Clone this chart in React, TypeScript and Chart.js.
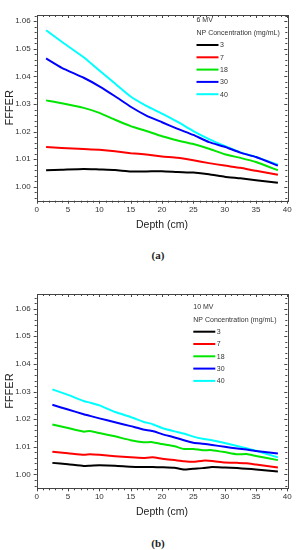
import React, { useEffect, useRef } from "react";
import { Chart, registerables } from "chart.js";
Chart.register(...registerables);

// ---------- data ----------
const concLabels = ["3", "7", "18", "30", "40"];
const seriesColors = ["#000000", "#ff0000", "#00e600", "#0000ff", "#00ffff"];
const xTickValues = [0, 5, 10, 15, 20, 25, 30, 35, 40];
const yTickValues = [1.0, 1.01, 1.02, 1.03, 1.04, 1.05, 1.06];

// (a) 6 MV
const depthA = [1.5, 4, 7.5, 10, 12.5, 15, 17.5, 20, 22.5, 25, 27.5, 30, 32.5, 35, 38.5];
const a3 = [1.006, 1.0062, 1.0065, 1.0063, 1.0061, 1.0056, 1.0056, 1.0057, 1.0054, 1.0052, 1.0046, 1.0037, 1.0031, 1.0024, 1.0015];
const a7 = [1.0144, 1.0141, 1.0137, 1.0134, 1.0129, 1.0122, 1.0117, 1.011, 1.0105, 1.0096, 1.0086, 1.0077, 1.0069, 1.0058, 1.0044];
const a18 = [1.0313, 1.0303, 1.0286, 1.0268, 1.0243, 1.022, 1.0202, 1.0183, 1.0168, 1.0155, 1.0138, 1.0118, 1.0105, 1.009, 1.006];
const a30 = [1.0465, 1.0431, 1.0395, 1.0364, 1.0328, 1.029, 1.0258, 1.0234, 1.021, 1.0188, 1.0162, 1.0145, 1.0124, 1.0108, 1.0077];
const a40 = [1.0567, 1.0525, 1.0469, 1.0421, 1.0374, 1.0327, 1.0293, 1.0265, 1.0235, 1.0202, 1.0173, 1.0148, 1.0125, 1.0108, 1.008];

// (b) 10 MV
const depthB = [2.5, 5, 7.5, 8.5, 10, 12.5, 15, 17, 18.5, 20, 22, 23.5, 25, 26.5, 28, 30, 32, 33.5, 35, 38.5];
const b3 = [1.0042, 1.0037, 1.0031, 1.0032, 1.0033, 1.0032, 1.0028, 1.0027, 1.0027, 1.0026, 1.0024, 1.0018, 1.0021, 1.0023, 1.0027, 1.0025, 1.0023, 1.0021, 1.0018, 1.0011];
const b7 = [1.0082, 1.0077, 1.0071, 1.0073, 1.0071, 1.0066, 1.0062, 1.006, 1.0062, 1.0057, 1.0052, 1.0048, 1.0046, 1.005, 1.0049, 1.0043, 1.0042, 1.0041, 1.0036, 1.0025];
const b18 = [1.0181, 1.0168, 1.0155, 1.0157, 1.015, 1.0138, 1.0124, 1.0117, 1.0117, 1.011, 1.0102, 1.0092, 1.0092, 1.0088, 1.0088, 1.0081, 1.0073, 1.0074, 1.0067, 1.0052];
const b30 = [1.0252, 1.0235, 1.0218, 1.0212, 1.0203, 1.0189, 1.0175, 1.0163, 1.0157, 1.0146, 1.0134, 1.0124, 1.0115, 1.0111, 1.0107, 1.01, 1.0094, 1.009, 1.0085, 1.0076];
const b40 = [1.0308, 1.0288, 1.0266, 1.026, 1.025, 1.0226, 1.0208, 1.0191, 1.0182, 1.0168, 1.0156, 1.0148, 1.0137, 1.0129, 1.0124, 1.0114, 1.0103, 1.0095, 1.0086, 1.0062];

const FONT = "'Liberation Sans', Arial, sans-serif";
const AXIS_COLOR = "#444";
const TEXT_COLOR = "#333";

Chart.defaults.font.family = FONT;

const frameTicksPlugin = {
  id: "frameTicks",
  afterDraw(chart: any) {
    const { ctx, chartArea } = chart;
    const { left, right, top, bottom } = chartArea;
    const xs = chart.scales.x;
    const ys = chart.scales.y;
    ctx.save();
    ctx.strokeStyle = AXIS_COLOR;
    ctx.lineWidth = 1;
    ctx.strokeRect(Math.round(left) + 0.5, Math.round(top) + 0.5, Math.round(right - left), Math.round(bottom - top));
    ctx.beginPath();
    for (let v = 0; v <= 40; v++) {
      const px = Math.round(xs.getPixelForValue(v)) + 0.5;
      const major = v % 5 === 0;
      const len = major ? 3 : 2;
      ctx.moveTo(px, bottom);
      ctx.lineTo(px, bottom + len);
      ctx.moveTo(px, top);
      ctx.lineTo(px, top + len);
    }
    const ymin = ys.min;
    const ymax = ys.max;
    for (let i = 0; ; i++) {
      const v = 0.996 + i * 0.002;
      if (v > ymax + 1e-9) break;
      if (v < ymin) continue;
      const major = Math.round(v * 1000) % 10 === 0;
      const py = Math.round(ys.getPixelForValue(v)) + 0.5;
      const len = major ? 3 : 2;
      ctx.moveTo(left - len, py);
      ctx.lineTo(left, py);
      ctx.moveTo(right, py);
      ctx.lineTo(right - len, py);
    }
    ctx.stroke();

    const lg = chart.options.plugins.customLegend;
    if (lg) {
      ctx.fillStyle = TEXT_COLOR;
      ctx.font = `7px ${FONT}`;
      ctx.textBaseline = "middle";
      ctx.textAlign = "left";
      ctx.fillText(lg.title, lg.x, lg.y);
      ctx.fillText("NP Concentration (mg/mL)", lg.x, lg.y + 13.3);
      chart.data.datasets.forEach((ds: any, i: number) => {
        const yy = lg.y + 25 + i * 12.3;
        ctx.strokeStyle = ds.borderColor;
        ctx.lineWidth = 2;
        ctx.beginPath();
        ctx.moveTo(lg.x, yy);
        ctx.lineTo(lg.x + lg.lineLen, yy);
        ctx.stroke();
        ctx.fillStyle = TEXT_COLOR;
        ctx.fillText(ds.label, lg.x + lg.lineLen + 1.5, yy + 0.5);
      });
    }
    ctx.restore();
  },
};

type Cfg = {
  depth: number[];
  series: number[][];
  yMax: number;
  height: number;
  padTop: number;
  xAxisHeight: number;
  titlePad: number;
  legend: { x: number; y: number; title: string; lineLen: number };
};

function FfferChart({ cfg }: { cfg: Cfg }) {
  const ref = useRef<HTMLCanvasElement | null>(null);
  useEffect(() => {
    if (!ref.current) return;
    const chart = new Chart(ref.current, {
      type: "line",
      data: {
        datasets: cfg.series.map((s, i) => ({
          label: concLabels[i],
          data: s.map((v, j) => ({ x: cfg.depth[j], y: v })),
          borderColor: seriesColors[i],
          backgroundColor: seriesColors[i],
          borderWidth: 2,
          pointRadius: 0,
          tension: 0.15,
          fill: false,
        })),
      },
      options: {
        animation: false,
        responsive: false,
        maintainAspectRatio: false,
        layout: { padding: { top: cfg.padTop, right: 8.7, left: 0, bottom: 0 } },
        plugins: {
          legend: { display: false },
          tooltip: { enabled: false },
          customLegend: cfg.legend,
        } as any,
        scales: {
          x: {
            type: "linear",
            min: 0,
            max: 40,
            afterFit: (s: any) => {
              s.height = cfg.xAxisHeight;
            },
            afterBuildTicks: (s: any) => {
              s.ticks = xTickValues.map((v) => ({ value: v }));
            },
            ticks: { color: TEXT_COLOR, font: { size: 8 }, padding: 4, maxRotation: 0, autoSkip: false },
            grid: { display: false, drawTicks: false },
            border: { display: false },
            title: {
              display: true,
              text: "Depth (cm)",
              color: "#222",
              font: { size: 10.5 },
              padding: { top: 0, bottom: cfg.titlePad },
            },
          },
          y: {
            type: "linear",
            min: 0.995,
            max: cfg.yMax,
            afterFit: (s: any) => {
              s.width = 36.7;
            },
            afterBuildTicks: (s: any) => {
              s.ticks = yTickValues.map((v) => ({ value: v }));
            },
            ticks: {
              color: TEXT_COLOR,
              font: { size: 8 },
              padding: 6,
              callback: (v: any) => Number(v).toFixed(2),
            },
            grid: { display: false, drawTicks: false },
            border: { display: false },
            title: {
              display: true,
              text: "FFFER",
              color: "#222",
              font: { size: 11 },
              padding: { top: 3, bottom: 0 },
            },
          },
        },
      },
      plugins: [frameTicksPlugin],
    } as any);
    return () => chart.destroy();
  }, [cfg]);
  return <canvas ref={ref} width={296} height={cfg.height} style={{ display: "block", width: 296, height: cfg.height }} />;
}

const cfgA: Cfg = {
  depth: depthA,
  series: [a3, a7, a18, a30, a40],
  yMax: 1.0622,
  height: 240,
  padTop: 15,
  xAxisHeight: 39.3,
  titlePad: 9,
  legend: { x: 196.5, y: 20, title: "6 MV", lineLen: 22 },
};

const cfgB: Cfg = {
  depth: depthB,
  series: [b3, b7, b18, b30, b40],
  yMax: 1.0653,
  height: 255,
  padTop: 24,
  xAxisHeight: 36.7,
  titlePad: 6.3,
  legend: { x: 193.3, y: 36.7, title: "10 MV", lineLen: 22 },
};

export default function App() {
  const captionStyle: React.CSSProperties = {
    position: "absolute",
    left: 0,
    width: 316,
    textAlign: "center",
    fontFamily: "'Liberation Serif', 'Times New Roman', serif",
    fontSize: 11,
    fontWeight: "bold",
    color: "#222",
    lineHeight: "14px",
  };
  return (
    <div style={{ position: "absolute", left: 0, top: 0, width: 296, height: 550, background: "#fff", overflow: "hidden" }}>
      <div style={{ position: "absolute", left: 0, top: 0 }}>
        <FfferChart cfg={cfgA} />
      </div>
      <div style={{ ...captionStyle, top: 248 }}>(a)</div>
      <div style={{ position: "absolute", left: 0, top: 270 }}>
        <FfferChart cfg={cfgB} />
      </div>
      <div style={{ ...captionStyle, top: 536 }}>(b)</div>
    </div>
  );
}
